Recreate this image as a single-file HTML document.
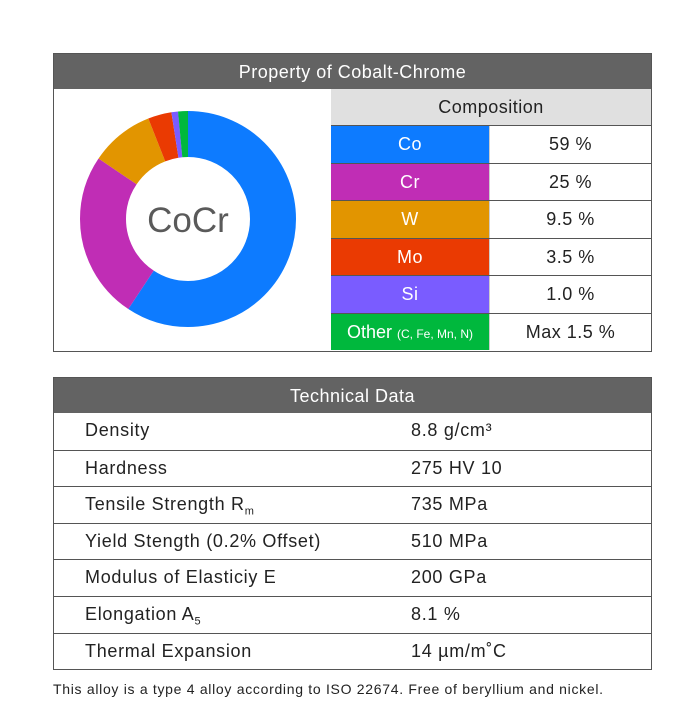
<!DOCTYPE html>
<html><head><style>
body{margin:0;width:700px;height:720px;background:#fff;font-family:"Liberation Sans",sans-serif;position:relative;overflow:hidden}
.box{position:absolute;left:53px;width:597px;border:1px solid #555;box-sizing:content-box}
.hdr{background:#636363;color:#fff;text-align:center;font-size:18px;letter-spacing:0.5px;height:35px;line-height:36px}
.comp{position:absolute;left:277px;top:35px;width:320px}
.comp div.r{height:37.5px;display:flex;border-top:1px solid #555;box-sizing:border-box;font-size:18px;letter-spacing:0.5px}
.comp .k{width:158px;color:#fff;text-align:center;line-height:36px}
.comp .v{flex:1;text-align:center;line-height:36px;color:#222;border-left:1px solid #ccc}
.t{height:36.6px;border-top:1px solid #555;box-sizing:border-box;display:flex;font-size:18px;letter-spacing:0.7px;color:#222;line-height:34px}
.t .a{width:357px;padding-left:31px;box-sizing:border-box}
</style></head><body>
<div class="box" style="top:53px;height:297px">
<div class="hdr">Property of Cobalt-Chrome</div>
<svg style="position:absolute;left:0;top:35px" width="277" height="262">
<g transform="rotate(-90 134 130)">
<circle cx="134" cy="130" r="85" fill="none" stroke="#0d7bff" stroke-width="46" stroke-dasharray="316.7 534.07"/>
<circle cx="134" cy="130" r="85" fill="none" stroke="#c02db5" stroke-width="46" stroke-dasharray="134.2 534.07" stroke-dashoffset="-316.7"/>
<circle cx="134" cy="130" r="85" fill="none" stroke="#e29500" stroke-width="46" stroke-dasharray="51 534.07" stroke-dashoffset="-450.9"/>
<circle cx="134" cy="130" r="85" fill="none" stroke="#ea3a02" stroke-width="46" stroke-dasharray="18.8 534.07" stroke-dashoffset="-501.9"/>
<circle cx="134" cy="130" r="85" fill="none" stroke="#7a5cff" stroke-width="46" stroke-dasharray="5.37 534.07" stroke-dashoffset="-520.7"/>
<circle cx="134" cy="130" r="85" fill="none" stroke="#00b83d" stroke-width="46" stroke-dasharray="8.05 534.07" stroke-dashoffset="-526.0"/>
</g>
<text x="134" y="143" text-anchor="middle" font-size="35" fill="#5a5a5a" font-family="Liberation Sans">CoCr</text>
</svg>
<div class="comp">
<div style="height:36px;background:#e0e0e0;text-align:center;line-height:36px;font-size:18px;letter-spacing:0.5px;color:#222">Composition</div>
<div class="r"><div class="k" style="background:#0d7bff">Co</div><div class="v">59 %</div></div>
<div class="r"><div class="k" style="background:#c02db5">Cr</div><div class="v">25 %</div></div>
<div class="r"><div class="k" style="background:#e29500">W</div><div class="v">9.5 %</div></div>
<div class="r"><div class="k" style="background:#ea3a02">Mo</div><div class="v">3.5 %</div></div>
<div class="r"><div class="k" style="background:#7a5cff">Si</div><div class="v">1.0 %</div></div>
<div class="r"><div class="k" style="background:#00b83d;letter-spacing:0">Other <span style="font-size:12px">(C, Fe, Mn, N)</span></div><div class="v">Max 1.5 %</div></div>
</div>
</div>
<div class="box" style="top:377px;height:291px">
<div class="hdr">Technical Data</div>
<div class="t" style="border-top:none"><div class="a">Density</div><div>8.8 g/cm³</div></div>
<div class="t"><div class="a">Hardness</div><div>275 HV 10</div></div>
<div class="t"><div class="a">Tensile Strength R<sub style="font-size:11px">m</sub></div><div>735 MPa</div></div>
<div class="t"><div class="a">Yield Stength (0.2% Offset)</div><div>510 MPa</div></div>
<div class="t"><div class="a">Modulus of Elasticiy E</div><div>200 GPa</div></div>
<div class="t"><div class="a">Elongation A<sub style="font-size:11px">5</sub></div><div>8.1 %</div></div>
<div class="t"><div class="a">Thermal Expansion</div><div>14 µm/m˚C</div></div>
</div>
<div style="position:absolute;left:53px;top:681px;font-size:14px;letter-spacing:0.7px;color:#222;white-space:nowrap">This alloy is a type 4 alloy according to ISO 22674. Free of beryllium and nickel.</div>
</body></html>
